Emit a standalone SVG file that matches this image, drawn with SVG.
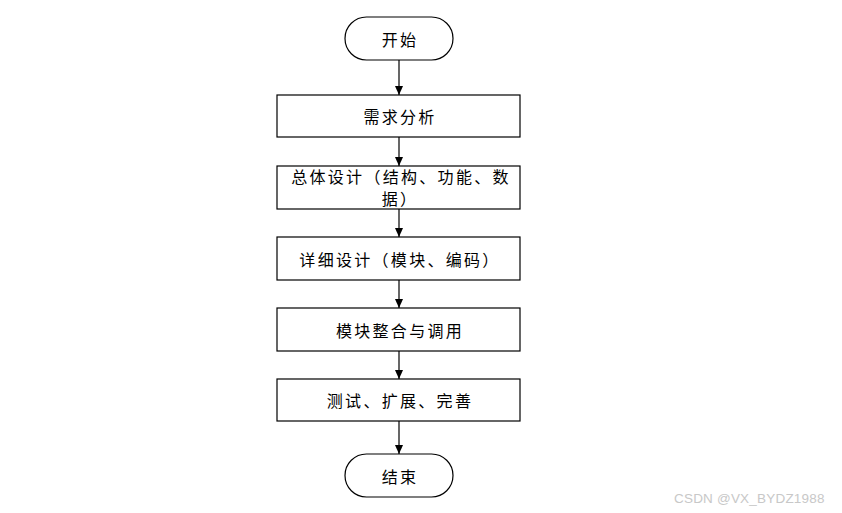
<svg xmlns="http://www.w3.org/2000/svg" width="842" height="513" viewBox="0 0 842 513">
<defs>
<marker id="arr" markerWidth="10" markerHeight="10" refX="9" refY="5" orient="auto" markerUnits="userSpaceOnUse">
<path d="M0,1 L9,5 L0,9 Z" fill="#000"/>
</marker>
<style>
.shape{fill:#fff;stroke:#000;stroke-width:1.2}
.t{font-family:"Noto Sans CJK SC","Noto Sans CJK JP",sans-serif;font-size:16px;letter-spacing:2.3px;fill:#000;text-anchor:middle;dominant-baseline:central}
.c{stroke:#000;stroke-width:1.2;fill:none;marker-end:url(#arr)}
.wm{font-family:"Liberation Sans",Arial,sans-serif;font-size:13.5px;letter-spacing:0.2px;fill:#c8c8c8}
</style>
</defs>
<rect width="842" height="513" fill="#fff"/>
<g id="connectors">
<line class="c" x1="399" y1="60" x2="399" y2="95"/>
<line class="c" x1="399" y1="137" x2="399" y2="166"/>
<line class="c" x1="399" y1="209" x2="399" y2="237"/>
<line class="c" x1="399" y1="280" x2="399" y2="308"/>
<line class="c" x1="399" y1="351" x2="399" y2="379"/>
<line class="c" x1="399" y1="421" x2="399" y2="454"/>
</g>
<g id="start">
<rect class="shape" x="345" y="17" width="108" height="43" rx="21.5"/>
<text class="t" x="400" y="39">开始</text>
</g>
<g id="n1">
<rect class="shape" x="277" y="95" width="243" height="42"/>
<text class="t" x="400" y="116">需求分析</text>
</g>
<g id="n2">
<rect class="shape" x="277" y="166" width="243" height="43"/>
<text class="t" x="401" y="176">总体设计（结构、功能、数</text>
<text class="t" x="400" y="198">据）</text>
</g>
<g id="n3">
<rect class="shape" x="277" y="237" width="243" height="43"/>
<text class="t" x="400" y="259">详细设计（模块、编码）</text>
</g>
<g id="n4">
<rect class="shape" x="277" y="308" width="243" height="43"/>
<text class="t" x="400" y="330">模块整合与调用</text>
</g>
<g id="n5">
<rect class="shape" x="277" y="379" width="243" height="42"/>
<text class="t" x="400" y="400">测试、扩展、完善</text>
</g>
<g id="end">
<rect class="shape" x="345" y="454" width="108" height="43" rx="21.5"/>
<text class="t" x="400" y="476">结束</text>
</g>
<text class="wm" x="674" y="503">CSDN @VX_BYDZ1988</text>
</svg>
